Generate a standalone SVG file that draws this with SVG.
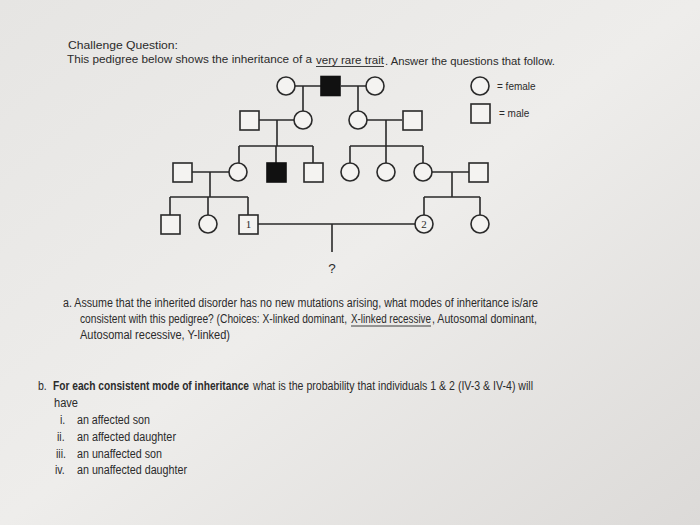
<svg xmlns="http://www.w3.org/2000/svg" width="700" height="525" viewBox="0 0 700 525">
<defs>
<linearGradient id="bg" x1="0" y1="0" x2="1" y2="1">
<stop offset="0" stop-color="#e6e5e3"/><stop offset="0.5" stop-color="#eeedeb"/><stop offset="1" stop-color="#dcdad8"/>
</linearGradient>
</defs>
<style>
.s{fill:#f4f3f1;stroke:#2a2a2a;stroke-width:1.6}
.a{fill:#111;stroke:#111;stroke-width:1.6}
.l{stroke:#2a2a2a;stroke-width:1.6;fill:none}
.u{stroke:#2b2b2b;stroke-width:0.9;fill:none}
text{font-family:"Liberation Sans",sans-serif;fill:#2b2b2b;font-size:13.5px}
.n{font-family:"Liberation Serif",serif;font-size:11px}
.g{font-size:10px}
.h{font-family:"Liberation Sans",sans-serif;font-size:11.5px}
</style>
<rect width="700" height="525" fill="url(#bg)"/>
<text class="h" x="68" y="49" textLength="110" lengthAdjust="spacingAndGlyphs">Challenge Question:</text>
<text class="h" x="67" y="63" textLength="245" lengthAdjust="spacingAndGlyphs">This pedigree below shows the inheritance of a</text>
<text class="h" x="316" y="64" textLength="68" lengthAdjust="spacingAndGlyphs">very rare trait</text>
<text class="h" x="385" y="65" textLength="170" lengthAdjust="spacingAndGlyphs">. Answer the questions that follow.</text>
<path class="u" d="M316 66.5H384"/>
<g id="connectors" class="l">
<path d="M295 86H321M341 86H366"/>
<path d="M303 86V111M358 86V111"/>
<path d="M259 120H294M367 120H402"/>
<path d="M277 120V146M239 146H313M239 146V163M276 146V163M313 146V163"/>
<path d="M386 120V146M350 146H423M350 146V163M386 146V163M423 146V163"/>
<path d="M192 172H229M432 172H469"/>
<path d="M210 172V197M170 197H248M170 197V215M208 197V215M248 197V215"/>
<path d="M452 172V197M424 197H480M424 197V215M480 197V215"/>
<path d="M258 224H415M332 224V252"/>
</g>
<g id="I-1"><circle class="s" cx="286" cy="86" r="9"/></g>
<g id="I-2"><rect class="a" x="321" y="76.5" width="19" height="19"/></g>
<g id="I-3"><circle class="s" cx="375" cy="86" r="9"/></g>
<g id="II-1"><rect class="s" x="240" y="111" width="19" height="19"/></g>
<g id="II-2"><circle class="s" cx="303" cy="120" r="9"/></g>
<g id="II-3"><circle class="s" cx="358" cy="120" r="9"/></g>
<g id="II-4"><rect class="s" x="403" y="111" width="19" height="19"/></g>
<g id="III-1"><rect class="s" x="173" y="163" width="19" height="19"/></g>
<g id="III-2"><circle class="s" cx="238" cy="172" r="9"/></g>
<g id="III-3"><rect class="a" x="267" y="163" width="19" height="19"/></g>
<g id="III-4"><rect class="s" x="304" y="163" width="19" height="19"/></g>
<g id="III-5"><circle class="s" cx="350" cy="172" r="9"/></g>
<g id="III-6"><circle class="s" cx="386" cy="172" r="9"/></g>
<g id="III-7"><circle class="s" cx="423" cy="172" r="9"/></g>
<g id="III-8"><rect class="s" x="469" y="163" width="19" height="19"/></g>
<g id="IV-1"><rect class="s" x="161" y="215" width="19" height="19"/></g>
<g id="IV-2"><circle class="s" cx="208" cy="224" r="9"/></g>
<g id="IV-3"><rect class="s" x="239" y="215" width="19" height="19"/><text class="n" x="248.5" y="228" text-anchor="middle">1</text></g>
<g id="IV-4"><circle class="s" cx="424" cy="224" r="9"/><text class="n" x="424" y="228" text-anchor="middle">2</text></g>
<g id="IV-5"><circle class="s" cx="480" cy="224" r="9"/></g>
<g id="child"><text x="332" y="273" text-anchor="middle" font-size="14">?</text></g>
<g id="legend">
<circle class="s" cx="480" cy="86" r="9"/>
<rect class="s" x="471" y="104" width="19" height="19"/>
<text class="g" x="497" y="90">= female</text>
<text class="g" x="499" y="117">= male</text>
</g>
<path class="u" d="M351 326H431"/>
<g id="questions" transform="scale(0.78 1)">
<text x="80.77" y="307" textLength="608.97" lengthAdjust="spacingAndGlyphs">a. Assume that the inherited disorder has no new mutations arising, what modes of inheritance is/are</text>
<text x="102.56" y="323" textLength="342.31" lengthAdjust="spacingAndGlyphs">consistent with this pedigree? (Choices: X-linked dominant,</text>
<text x="450" y="323" textLength="102.56" lengthAdjust="spacingAndGlyphs">X-linked recessive</text>
<text x="553.85" y="323" textLength="134.62" lengthAdjust="spacingAndGlyphs">, Autosomal dominant,</text>
<text x="102.56" y="339" textLength="192.31" lengthAdjust="spacingAndGlyphs">Autosomal recessive, Y-linked)</text>
<text x="48.72" y="390">b.</text>
<text x="67.95" y="390" font-weight="bold" textLength="251.28" lengthAdjust="spacingAndGlyphs">For each consistent mode of inheritance</text>
<text x="324.36" y="390" textLength="358.97" lengthAdjust="spacingAndGlyphs">what is the probability that individuals 1 &amp; 2 (IV-3 &amp; IV-4) will</text>
<text x="69.23" y="407" textLength="30.77" lengthAdjust="spacingAndGlyphs">have</text>
<text x="76.92" y="424">i.</text>
<text x="73.08" y="441">ii.</text>
<text x="71.79" y="458">iii.</text>
<text x="70.51" y="474">iv.</text>
<text x="98.72" y="424" textLength="93.59" lengthAdjust="spacingAndGlyphs">an affected son</text>
<text x="98.72" y="441" textLength="126.92" lengthAdjust="spacingAndGlyphs">an affected daughter</text>
<text x="98.72" y="458" textLength="108.97" lengthAdjust="spacingAndGlyphs">an unaffected son</text>
<text x="98.72" y="474" textLength="141.03" lengthAdjust="spacingAndGlyphs">an unaffected daughter</text>
</g>
</svg>
